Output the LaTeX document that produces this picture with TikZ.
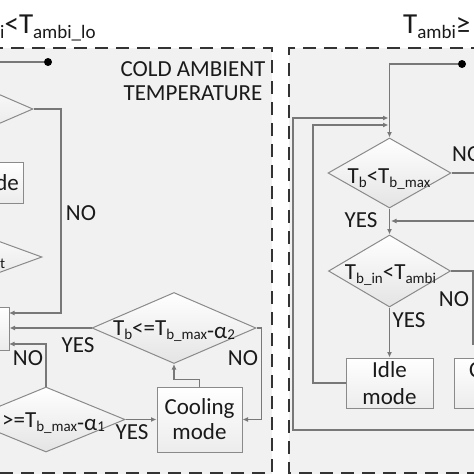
\documentclass[tikz,border=0pt]{standalone}
\usepackage{fontspec}
\setmainfont{Carlito}
\usetikzlibrary{arrows.meta,shapes.geometric,calc}
\definecolor{txt}{HTML}{1A1A1A}
\definecolor{bd}{HTML}{8A8A8A}
\definecolor{ln}{HTML}{787878}
\definecolor{frm}{HTML}{333333}
\definecolor{bgf}{HTML}{F1F1F1}
\definecolor{bfill}{HTML}{ECECEC}
\definecolor{dfill}{HTML}{E4E4E4}
\newcommand{\sbs}[1]{\raisebox{-4pt}{\fontsize{15}{15}\selectfont #1}}
\newcommand{\tsbs}[1]{\raisebox{-5pt}{\fontsize{19}{19}\selectfont #1}}
\begin{document}
\begin{tikzpicture}[x=1pt,y=-1pt,
  every node/.style={font=\fontsize{23}{25}\selectfont, text=txt, inner sep=0pt},
  ttl/.style={font=\fontsize{29}{32}\selectfont},
  dia/.style={shape=diamond, draw=bd, line width=1pt, top color=white, bottom color=dfill, inner sep=0pt},
  blk/.style={draw=bd, line width=1pt, top color=white, bottom color=bfill, inner sep=0pt, align=center},
  con/.style={draw=ln, line width=1.2pt},
  arr/.style={con, -{Latex[length=5.5pt,width=5pt]}},
  frame/.style={draw=frm, line width=2.8pt, dash pattern=on 13pt off 8pt},
  dotst/.style={circle, fill=black, minimum size=8pt, inner sep=0pt},
]
\path[use as bounding box] (0,0) rectangle (474,474);
\clip (0,0) rectangle (474,474);
\fill[white] (0,0) rectangle (474,474);
\fill[bgf] (-10,48) rectangle (272,480);
\fill[bgf] (289,48) rectangle (484,480);
% frames
\draw[frame] (-10,48) -- (272,48) -- (272,473) -- (-10,473);
\draw[frame] (484,48) -- (289,48) -- (289,473) -- (484,473);
% titles
\node[ttl, anchor=base west] (t1) at (0,33) {\tsbs{i}<T\tsbs{ambi\_lo}};
\node[ttl, anchor=base west] (t2) at (403,33) {T\tsbs{ambi}≥};
\node[align=center, font=\fontsize{23}{24}\selectfont] (cold) at (193,81.6) {COLD AMBIENT\\TEMPERATURE};
% left region
\node[dotst] (dotL) at (48,62) {};
\coordinate (l0) at (-10,62);
\node[dia, minimum width=164pt, minimum height=71pt] (d0) at (-49,109) {};
\node[blk, minimum width=106pt, minimum height=41pt] (bA) at (-30,182.5) {};
\node[anchor=base east] (bAt) at (19,190) {de};
\node[dia, minimum width=164pt, minimum height=60pt] (d1) at (-40,257) {};
\node[anchor=base west, font=\fontsize{15}{15}\selectfont] (d1t) at (0,268) {t};
\node[blk, minimum width=98pt, minimum height=43pt] (bB) at (-40,328.5) {};
\node[dia, minimum width=164pt, minimum height=71pt] (d2) at (174,328) {};
\node[anchor=base] (d2t) at (174,335) {T\sbs{b}<=T\sbs{b\_max}\raisebox{-3pt}{-α}\sbs{2}};
\node[dia, minimum width=158pt, minimum height=65pt] (d3) at (46,419.5) {};
\node[anchor=base west] (d3t) at (2,427) {>=T\sbs{b\_max}\raisebox{-3pt}{-α}\sbs{1}};
\node[blk, minimum width=85pt, minimum height=65pt] (cool) at (199.5,419.5) {Cooling\\mode};
\coordinate (n1) at (61,313);
\coordinate (bB1) at (9,313);
\coordinate (bB3) at (9,344);
\draw[con] (l0) -- (dotL);
\draw[arr] (d0.east) -| (n1) -- (bB1);
\draw[arr] (d2.west) -- (d2.west -| bB.east);
\draw[arr] (d2.east) -- ++(5,0) |- (cool.east);
\draw[arr] (d3.north) |- (bB3);
\draw[arr] (d3.east) -- (cool.west);
\draw[arr] (cool.north) -- ++(0,-7) -| (d2.south);
\node (no1) at (81,213) {NO};
\node (yes1) at (78,345) {YES};
\node (no2) at (28,358) {NO};
\node (yes2) at (132,432) {YES};
\node (no3) at (243,358) {NO};
% right region
\node[dotst] (dotR) at (462,64) {};
\node[dia, minimum width=123pt, minimum height=70pt] (d4) at (389.5,173) {};
\node[anchor=base] (d4t) at (389,183) {T\sbs{b}<T\sbs{b\_max}};
\node[dia, minimum width=122pt, minimum height=72pt] (d5) at (389.5,271) {};
\node[anchor=base] (d5t) at (390.5,279) {T\sbs{b\_in}<T\sbs{ambi}};
\node[blk, minimum width=87pt, minimum height=50pt, font=\fontsize{23}{27}\selectfont] (idle) at (389.5,383) {Idle\\mode};
\node[blk, minimum width=92pt, minimum height=50pt] (bC) at (500,383) {};
\node[anchor=base west] (bCt) at (469,377) {C};
\coordinate (o1) at (484,430);
\coordinate (o2) at (293,430);
\coordinate (j1) at (388.5,118);
\coordinate (j2) at (388.5,125);
\coordinate (i1) at (313,125);
\coordinate (e1) at (484,173);
\coordinate (e2) at (484,221);
\coordinate (j3) at (391,221);
\coordinate (e3) at (473,345);
\draw[arr] (dotR) -| (d4.north);
\draw[arr] (o1) -- (o2) |- (j1);
\draw[arr] (idle.west) -| (i1) -- (j2);
\draw[con] (d4.east) -- (e1);
\draw[arr] (d4.south) -- (d5.north);
\draw[arr] (e2) -- (j3);
\draw[con] (d5.east) -| (e3);
\draw[arr] (d5.south) -- (idle.north);
\node[anchor=west] (no4) at (452,154) {NO};
\node (yes3) at (361,220) {YES};
\node (no5) at (454,299) {NO};
\node (yes4) at (409,320) {YES};
\end{tikzpicture}
\end{document}
